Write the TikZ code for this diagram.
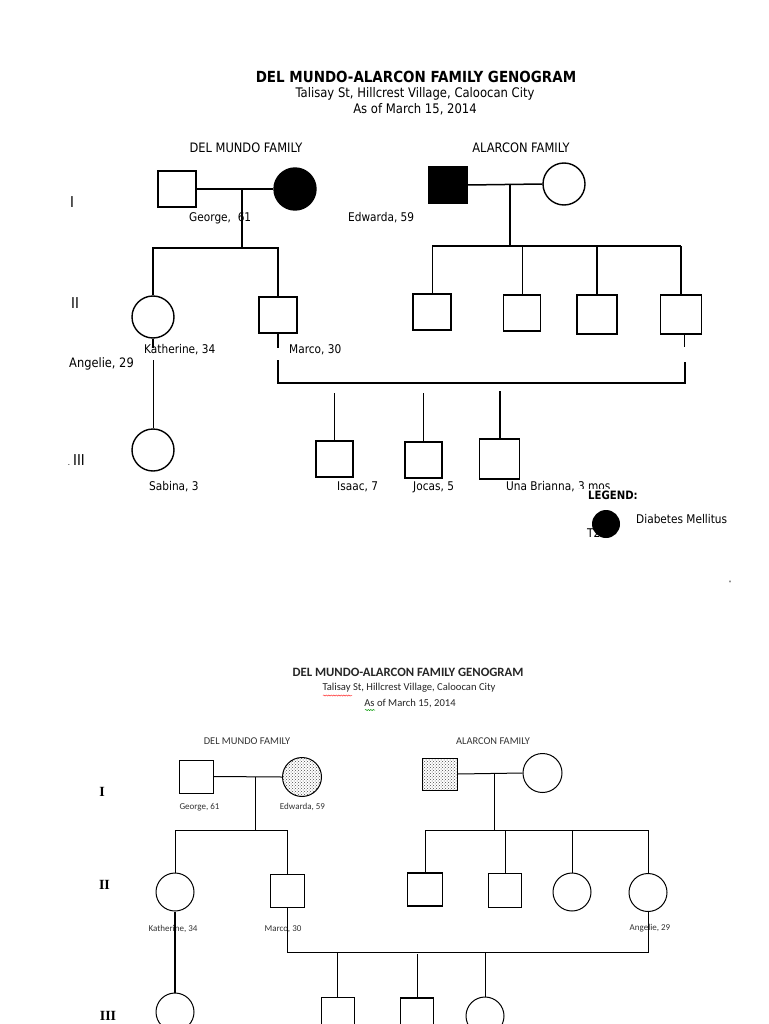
\documentclass[tikz,border=0pt]{standalone}
\usepackage{fontspec}
\usetikzlibrary{patterns,decorations.pathmorphing}
\newfontfamily\dvs{DejaVu Sans}[FakeStretch=0.88]
\newfontfamily\carl{Carlito}
\newfontfamily\lserif{Liberation Serif}
\tikzset{
  t/.style={font=\dvs\fontsize{12}{14}\selectfont, inner sep=0pt},
  tw/.style={t, anchor=west},
  hd/.style={font=\dvs\fontsize{13}{15}\selectfont, inner sep=0pt},
  gen/.style={font=\dvs\fontsize{15}{17}\selectfont, inner sep=0pt},
  c/.style={font=\carl\fontsize{9}{11}\selectfont, text=black!80, inner sep=0pt},
  hd2/.style={font=\carl\fontsize{10.4}{12}\selectfont, text=black!80, inner sep=0pt},
  gen2/.style={font=\lserif\bfseries\fontsize{14}{16}\selectfont, inner sep=0pt},
  sq/.style={draw, rectangle, inner sep=0pt, line width=1.4pt, minimum width=#1, minimum height=#1},
  ci/.style={draw, circle, inner sep=0pt, line width=1.4pt, minimum size=#1},
  ln/.style={line width=1.5pt},
  thinln/.style={line width=1pt},
  thickln/.style={line width=2pt},
  dotfill/.style={pattern=crosshatch dots, pattern color=black!70},
}
\begin{document}
\begin{tikzpicture}[x=1pt,y=-1pt]
\clip (0,0) rectangle (768,1024);
\fill[white] (0,0) rectangle (768,1024);

% ================= TOP GENOGRAM =================
\node[font=\dvs\bfseries\fontsize{15.3}{17}\selectfont, inner sep=0pt] (title1) at (416,77) {DEL MUNDO-ALARCON FAMILY GENOGRAM};
\node[font=\dvs\fontsize{13.2}{15}\selectfont, inner sep=0pt] (addr1) at (415,94) {Talisay St, Hillcrest Village, Caloocan City};
\node[font=\dvs\fontsize{13.2}{15}\selectfont, inner sep=0pt] (date1) at (415,109) {As of March 15, 2014};
\node[hd] (dmf1) at (246,148) {DEL MUNDO FAMILY};
\node[hd] (alf1) at (521,148) {ALARCON FAMILY};

\node[gen] (g1) at (72,202) {I};
\node[gen] (g2) at (75,303) {II};
\node[gen] (g3) at (79,460) {III};
\node[t, font=\dvs\fontsize{8}{9}\selectfont] (dot3) at (69,465) {.};

% generation I
\node[sq=36pt, minimum width=38pt] (george) at (177,189) {};
\node[ci=42pt, fill=black] (edwarda) at (295,189) {};
\node[sq=36pt, minimum width=38pt, fill=black] (alf) at (448,185) {};
\node[ci=42pt] (alm) at (564,184) {};
\coordinate (dmM) at (242,189);
\coordinate (dmS) at (242,248);
\coordinate (alM) at (510,184);
\coordinate (alS) at (510,246);
\draw[ln] (george.east) -- (edwarda.west);
\draw[ln] (alf.east) -- (alm.west);
\draw[ln] (dmM) -- (dmS);
\draw[ln] (alM) -- (alS);

\node[tw] (lgeorge) at (189,218) {George,\ \ 61};
\node[tw] (ledwarda) at (348,218) {Edwarda, 59};

% generation II
\node[ci=42pt] (kath) at (153,317) {};
\node[sq=36pt, minimum width=38pt] (marco) at (278,315) {};
\draw[ln] (kath.north) |- (dmS) -| (marco.north);

\node[sq=36pt, minimum width=38pt] (a1) at (432,312) {};
\node[sq=36pt, minimum width=37pt] (a2) at (522,313) {};
\node[sq=39pt, minimum width=40pt] (a3) at (597,314.5) {};
\node[sq=39pt, minimum width=41pt] (a4) at (681,314.5) {};
\draw[thickln] (a1.north |- alS) -- (a4.north |- alS);
\draw[thinln] (a1.north) -- (a1.north |- alS);
\draw[thinln] (a2.north) -- (a2.north |- alS);
\draw[thickln] (a3.north) -- (a3.north |- alS);
\draw[thickln] (a4.north) -- (a4.north |- alS);

\node[tw] (lkath) at (144,350) {Katherine, 34};
\node[tw] (lmarco) at (289,350) {Marco, 30};
\node[tw, font=\dvs\fontsize{13}{15}\selectfont] (langelie) at (69,364) {Angelie, 29};

% Marco - Angelie union
\coordinate (mL) at (278,360);
\coordinate (mR) at (685,362);
\coordinate (mBar) at (480,383);
\coordinate (aL) at (684,347);
\draw[ln] (marco.south) -- ++(0,14);
\draw[ln] (mL) |- (mBar) -| (mR);
\draw[thinln] (a4.south -| aL) -- (aL);

% Katherine - Sabina
\coordinate (kz) at (153,360);
\node[ci=42pt] (sabina) at (153,450) {};
\draw[ln] (kath.south) -- ++(0,9);
\draw[thinln] (kz) -- (sabina.north);

% generation III
\node[sq=36pt, minimum width=37pt] (isaac) at (334.5,459) {};
\node[sq=36pt, minimum width=37pt] (jocas) at (423.5,460) {};
\node[sq=40pt, minimum width=40pt] (una) at (499.5,459) {};
\coordinate (i0) at (334.5,393);
\coordinate (j0) at (423.5,393);
\coordinate (u0) at (499.5,391);
\draw[thinln] (i0) -- (isaac.north);
\draw[thinln] (j0) -- (jocas.north);
\draw[thickln] (u0) -- (una.north);

\node[tw] (lsabina) at (149,487) {Sabina, 3};
\node[tw] (lisaac) at (337,487) {Isaac, 7};
\node[tw] (ljocas) at (413,487) {Jocas, 5};
\node[tw] (luna) at (506,487) {Una Brianna, 3 mos};

% legend
\fill[white] (578,489) rectangle (700,503);
\node[tw, font=\dvs\bfseries\fontsize{11.5}{13}\selectfont] (legend) at (588,495) {LEGEND:};
\node[tw] (t2) at (587,533) {T2};
\node[circle, fill=black, inner sep=0pt, minimum size=28pt] (legdot) at (606,524) {};
\node[tw] (ldm) at (636,519) {Diabetes Mellitus};
\node[t, font=\dvs\fontsize{6}{7}\selectfont] (tick) at (730,583) {''};

% ================= BOTTOM GENOGRAM =================
\node[font=\carl\bfseries\fontsize{12.7}{14}\selectfont, text=black!85, inner sep=0pt] (title2) at (408,672) {DEL MUNDO-ALARCON FAMILY GENOGRAM};
\node[font=\carl\fontsize{10.6}{12}\selectfont, text=black!85, inner sep=0pt] (addr2) at (409,688) {Talisay St, Hillcrest Village, Caloocan City};
\node[font=\carl\fontsize{10.6}{12}\selectfont, text=black!85, inner sep=0pt] (date2) at (410,703) {As of March 15, 2014};
\draw[red!80, line width=0.5pt, decorate, decoration={snake, amplitude=0.6pt, segment length=2.5pt}] (323,695.5) -- (352,695.5);
\draw[green!60!black, line width=0.5pt, decorate, decoration={snake, amplitude=0.6pt, segment length=2.5pt}] (365,710) -- (375,710);
\node[hd2] (dmf2) at (247,741) {DEL MUNDO FAMILY};
\node[hd2] (alf2) at (493,741) {ALARCON FAMILY};

\node[gen2] (h1) at (102,792) {I};
\node[gen2] (h2) at (104.5,885) {II};
\node[gen2] (h3) at (108,1016) {III};

% generation I
\node[sq=33pt, minimum width=34pt, line width=1pt] (george2) at (196,776.5) {};
\node[ci=39pt, line width=1pt, dotfill] (edwarda2) at (302,777) {};
\node[sq=32pt, minimum width=35pt, line width=1pt, dotfill] (alf2b) at (439.5,774) {};
\node[ci=39pt, line width=1pt] (alm2) at (542.5,773) {};
\coordinate (dm2M) at (255,777);
\coordinate (dm2S) at (255,830);
\coordinate (al2M) at (494,773);
\coordinate (al2S) at (494,830);
\draw[line width=1pt] (george2.east) -- (edwarda2.west);
\draw[line width=1pt] (alf2b.east) -- (alm2.west);
\draw[line width=1pt] (dm2M) -- (dm2S);
\draw[line width=1pt] (al2M) -- (al2S);

\node[c] (lgeorge2) at (199.5,807) {George, 61};
\node[c] (ledwarda2) at (302.5,807) {Edwarda, 59};

% generation II
\node[ci=38pt, line width=1pt] (kath2) at (175,892) {};
\node[sq=33pt, minimum width=34pt, line width=1pt] (marco2) at (287,890.5) {};
\draw[line width=1pt] (kath2.north) |- (dm2S) -| (marco2.north);

\node[sq=33pt, minimum width=35pt, line width=1.6pt] (b1) at (425,889.5) {};
\node[sq=34pt, minimum width=33pt, line width=1pt] (b2) at (505,890) {};
\node[ci=38pt, line width=1pt] (b3) at (572,892) {};
\node[ci=38pt, line width=1pt] (b4) at (648,892.5) {};
\draw[line width=1pt] (b1.north) |- (al2S) -| (b4.north);
\draw[line width=1pt] (b2.north) -- (b2.north |- al2S);
\draw[line width=1pt] (b3.north) -- (b3.north |- al2S);

\node[c] (lkath2) at (173,929) {Katherine, 34};
\node[c] (lmarco2) at (283,929) {Marco, 30};
\node[c] (langelie2) at (650,928) {Angelie, 29};

% unions
\coordinate (bar2) at (470,952);
\draw[line width=1pt] (marco2.south) |- (bar2) -| (b4.south);
\node[ci=38pt, line width=1pt] (sabina2) at (175,1012) {};
\draw[line width=1.6pt] (kath2.south) -- (sabina2.north);

% generation III
\node[sq=34pt, minimum width=33pt, line width=1pt] (c1) at (337.5,1014) {};
\node[sq=34pt, minimum width=33pt, line width=1.6pt] (c2) at (417,1015) {};
\node[ci=38pt, line width=1pt] (c3) at (485,1016) {};
\coordinate (c1t) at (337.5,952);
\coordinate (c2t) at (417,954);
\coordinate (c3t) at (485,952);
\draw[line width=1pt] (c1t) -- (c1.north);
\draw[line width=1pt] (c2t) -- (c2.north);
\draw[line width=1pt] (c3t) -- (c3.north);
\end{tikzpicture}
\end{document}
